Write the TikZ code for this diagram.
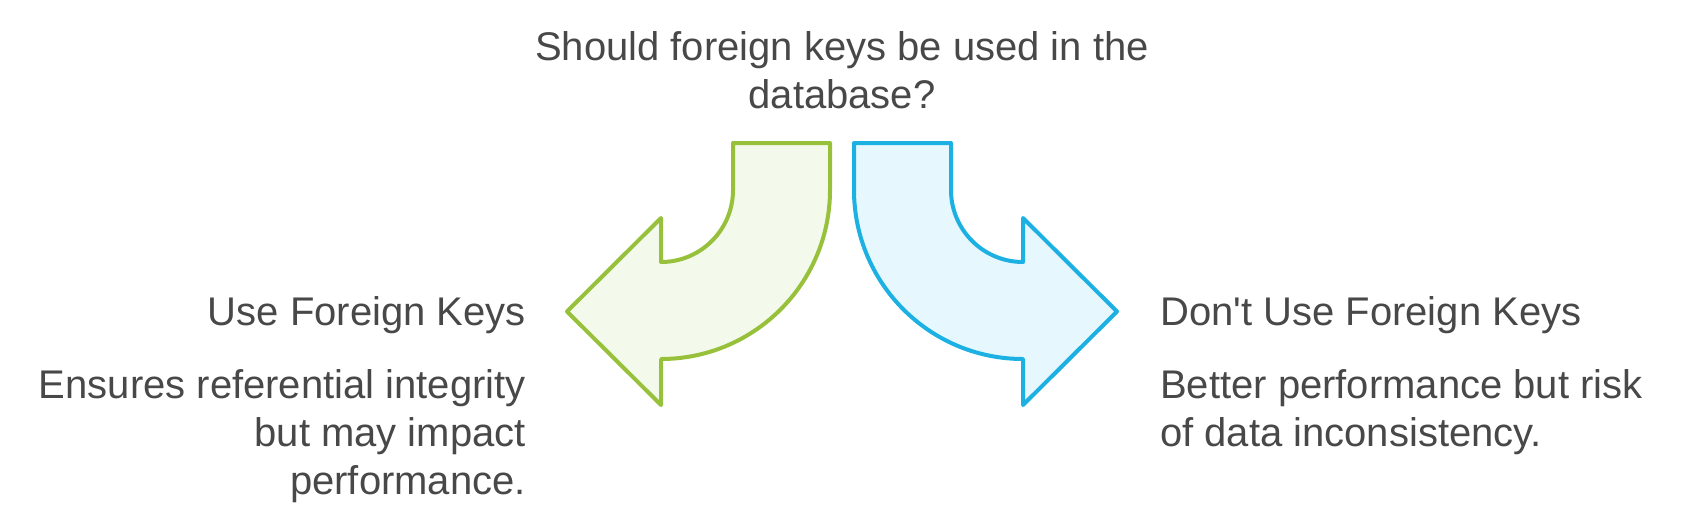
\documentclass[tikz,border=0pt]{standalone}
\usepackage{fontspec}
\setmainfont{Liberation Sans}
\definecolor{fkgreen}{HTML}{97C13B}
\definecolor{fkgreenfill}{HTML}{F3F9EB}
\definecolor{fkblue}{HTML}{1CB1E2}
\definecolor{fkbluefill}{HTML}{E6F8FD}
\definecolor{fktext}{HTML}{484848}
\begin{document}
\begin{tikzpicture}[x=1pt,y=-1pt,
    txt/.style={font=\fontsize{40}{48}\selectfont, text=fktext, inner sep=0pt},
    bend arrow/.style={line width=4pt, line join=round}]
  \useasboundingbox (0,0) rectangle (1681,528);
  % question
  \node[txt, align=center, anchor=base] (question) at (842,108)
    {Should foreign keys be used in the\\database?};
  % left choice
  \draw[bend arrow, draw=fkgreen, fill=fkgreenfill]
    (830,143) -- (830,190) arc[start angle=0, end angle=90, radius=169]
    -- (661,405) -- (567,311.5) -- (661,218) -- (661,262)
    arc[start angle=90, end angle=0, radius=72] -- (733,143) -- cycle;
  \node[txt, anchor=base east] (usefk) at (526,325) {Use Foreign Keys};
  \node[txt, align=right, anchor=base east] (usefkdesc) at (526,494)
    {Ensures referential integrity\\but may impact\\performance.};
  % right choice
  \draw[bend arrow, draw=fkblue, fill=fkbluefill]
    (854,143) -- (854,190) arc[start angle=180, end angle=90, radius=169]
    -- (1023,405) -- (1117,311.5) -- (1023,218) -- (1023,262)
    arc[start angle=90, end angle=180, radius=72] -- (951,143) -- cycle;
  \node[txt, anchor=base west] (nofk) at (1160,325) {Don\textquotesingle t Use Foreign Keys};
  \node[txt, align=left, anchor=base west] (nofkdesc) at (1160,446)
    {Better performance but risk\\of data inconsistency.};
\end{tikzpicture}
\end{document}
